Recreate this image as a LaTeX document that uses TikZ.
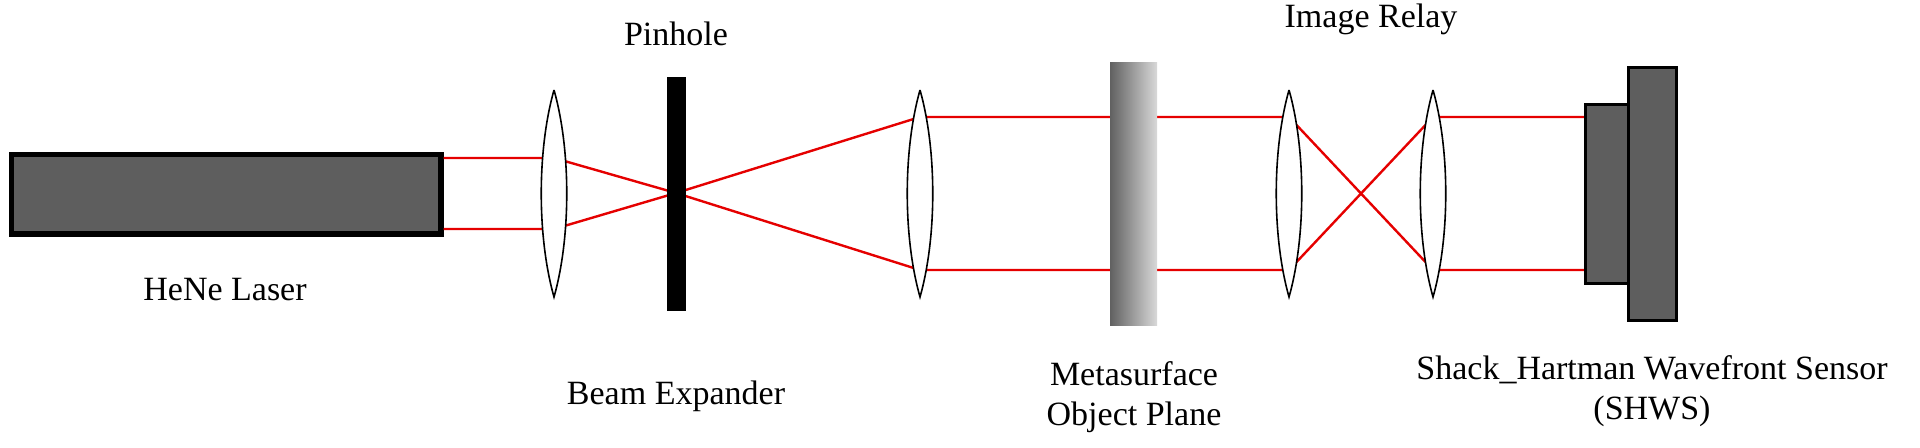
\documentclass[tikz,border=0pt]{standalone}
\usepackage{fontspec}
\setmainfont{Liberation Serif}
\begin{document}
\begin{tikzpicture}[x=0.5pt,y=-0.5pt,
  lbl/.style={font=\fontsize{17}{20}\selectfont,inner sep=0pt,align=center},
  beam/.style={draw=red!90!black,line width=1.2pt},
  lens/.style={draw=black,line width=0.8pt,fill=white},
  box/.style={draw=black,fill=black!63,line width=1.5pt}]
\useasboundingbox (0,0) rectangle (1920,447);
% laser
\node[box,line width=2.6pt,minimum width=435*0.5pt-2.6pt,minimum height=85*0.5pt-2.6pt,anchor=north west,inner sep=0pt] (laser) at (8.5,151.5) {};
% beams
\coordinate (l1t) at (554,158); \coordinate (l1b) at (554,229);
\coordinate (f) at (676,193);
\coordinate (l2t) at (920,117); \coordinate (l2b) at (920,270);
\coordinate (mlt) at (1110,117); \coordinate (mlb) at (1110,270);
\coordinate (mrt) at (1157,117); \coordinate (mrb) at (1157,270);
\coordinate (l3t) at (1289,117); \coordinate (l3b) at (1289,270);
\coordinate (l4t) at (1433,117); \coordinate (l4b) at (1433,270);
\coordinate (st) at (1585,117); \coordinate (sb) at (1585,270);
\draw[beam] (laser.east|-l1t) -- (l1t) -- (f) -- (l2b) -- (mlb);
\draw[beam] (laser.east|-l1b) -- (l1b) -- (f) -- (l2t) -- (mlt);
\draw[beam] (mrt) -- (l3t) -- (l4b) -- (sb);
\draw[beam] (mrb) -- (l3b) -- (l4t) -- (st);
% pinhole
\fill (667,77) rectangle (686,311);
% lenses
\foreach \n/\x in {a/554,b/920,c/1289,d/1433}{
  \draw[lens] (\x,90) .. controls (\x+17,150) and (\x+17,237) .. (\x,297)
     .. controls (\x-17,237) and (\x-17,150) .. (\x,90);
}
% metasurface
\shade[left color=black!62,right color=black!15] (1110,62) rectangle (1157,325);
% SHWS
\draw[box] (1585,104) rectangle (1628,283);
\draw[box] (1628,67) rectangle (1676,320);
% labels
\node[lbl] (t1) at (676,34) {Pinhole};
\node[lbl] (t2) at (225,290) {HeNe Laser};
\node[lbl] (t3) at (676,396) {Beam Expander};
\node[lbl] (t4) at (1371,19) {Image Relay};
\node[lbl] (t5) at (1134,397) {Metasurface\\Object Plane};
\node[lbl] (t6) at (1652,391) {Shack\_Hartman Wavefront Sensor\\(SHWS)};
\end{tikzpicture}
\end{document}
